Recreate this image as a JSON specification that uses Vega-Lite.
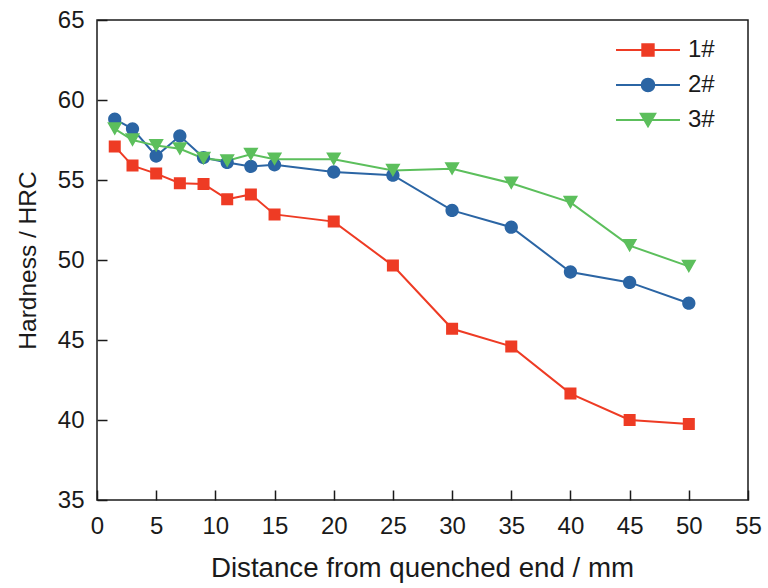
{
  "$schema": "https://vega.github.io/schema/vega-lite/v6.json",
  "autosize": {"type": "none"},
  "width": 651,
  "height": 480,
  "padding": {"left": 97, "top": 20, "right": 20, "bottom": 88},
  "background": "white",
  "config": {
    "font": "Liberation Sans",
    "view": {"stroke": "#1a1a1a", "strokeWidth": 1.5},
    "axis": {
      "grid": false,
      "domain": false,
      "ticks": true,
      "tickSize": -10,
      "tickColor": "#1a1a1a",
      "tickWidth": 1.5,
      "labelFont": "Liberation Sans",
      "labelFontSize": 24,
      "labelColor": "#1a1a1a",
      "titleFont": "Liberation Sans",
      "titleFontWeight": "normal",
      "titleColor": "#1a1a1a"
    }
  },
  "data": {
    "values": [
      {"d": 1.5, "hrc": 57.1, "s": "1#"}, {"d": 3, "hrc": 55.9, "s": "1#"}, {"d": 5, "hrc": 55.4, "s": "1#"},
      {"d": 7, "hrc": 54.8, "s": "1#"}, {"d": 9, "hrc": 54.75, "s": "1#"}, {"d": 11, "hrc": 53.8, "s": "1#"},
      {"d": 13, "hrc": 54.1, "s": "1#"}, {"d": 15, "hrc": 52.85, "s": "1#"}, {"d": 20, "hrc": 52.4, "s": "1#"},
      {"d": 25, "hrc": 49.65, "s": "1#"}, {"d": 30, "hrc": 45.7, "s": "1#"}, {"d": 35, "hrc": 44.6, "s": "1#"},
      {"d": 40, "hrc": 41.65, "s": "1#"}, {"d": 45, "hrc": 40.0, "s": "1#"}, {"d": 50, "hrc": 39.75, "s": "1#"},
      {"d": 1.5, "hrc": 58.8, "s": "2#"}, {"d": 3, "hrc": 58.2, "s": "2#"}, {"d": 5, "hrc": 56.5, "s": "2#"},
      {"d": 7, "hrc": 57.75, "s": "2#"}, {"d": 9, "hrc": 56.4, "s": "2#"}, {"d": 11, "hrc": 56.1, "s": "2#"},
      {"d": 13, "hrc": 55.85, "s": "2#"}, {"d": 15, "hrc": 55.95, "s": "2#"}, {"d": 20, "hrc": 55.5, "s": "2#"},
      {"d": 25, "hrc": 55.3, "s": "2#"}, {"d": 30, "hrc": 53.1, "s": "2#"}, {"d": 35, "hrc": 52.05, "s": "2#"},
      {"d": 40, "hrc": 49.25, "s": "2#"}, {"d": 45, "hrc": 48.6, "s": "2#"}, {"d": 50, "hrc": 47.3, "s": "2#"},
      {"d": 1.5, "hrc": 58.2, "s": "3#"}, {"d": 3, "hrc": 57.5, "s": "3#"}, {"d": 5, "hrc": 57.15, "s": "3#"},
      {"d": 7, "hrc": 56.95, "s": "3#"}, {"d": 9, "hrc": 56.35, "s": "3#"}, {"d": 11, "hrc": 56.2, "s": "3#"},
      {"d": 13, "hrc": 56.6, "s": "3#"}, {"d": 15, "hrc": 56.3, "s": "3#"}, {"d": 20, "hrc": 56.3, "s": "3#"},
      {"d": 25, "hrc": 55.6, "s": "3#"}, {"d": 30, "hrc": 55.7, "s": "3#"}, {"d": 35, "hrc": 54.8, "s": "3#"},
      {"d": 40, "hrc": 53.6, "s": "3#"}, {"d": 45, "hrc": 50.9, "s": "3#"}, {"d": 50, "hrc": 49.6, "s": "3#"}
    ]
  },
  "encoding": {
    "x": {
      "field": "d",
      "type": "quantitative",
      "scale": {"domain": [0, 55], "nice": false},
      "axis": {
        "values": [0, 5, 10, 15, 20, 25, 30, 35, 40, 45, 50, 55],
        "labelPadding": 24,
        "labelFlush": false,
        "title": "Distance from quenched end / mm",
        "titleFontSize": 27.7,
        "titleX": 325,
        "titleY": 76.5,
        "titleAlign": "center",
        "titleBaseline": "alphabetic"
      }
    },
    "y": {
      "field": "hrc",
      "type": "quantitative",
      "scale": {"domain": [35, 65], "nice": false, "zero": false},
      "axis": {
        "values": [35, 40, 45, 50, 55, 60, 65],
        "labelPadding": 23,
        "labelFlush": false,
        "title": "Hardness / HRC",
        "titleFontSize": 24.5,
        "titleAngle": -90,
        "titleX": -62,
        "titleY": 240,
        "titleAlign": "center",
        "titleBaseline": "alphabetic"
      }
    },
    "color": {
      "field": "s",
      "type": "nominal",
      "scale": {"domain": ["1#", "2#", "3#"], "range": ["#EE3B24", "#2B65A4", "#5CBF5C"]},
      "legend": {
        "orient": "none",
        "legendX": 539,
        "legendY": 18,
        "title": null,
        "padding": 0,
        "labelFont": "Liberation Sans",
        "labelFontSize": 24,
        "labelColor": "#1a1a1a",
        "labelOffset": 28,
        "rowPadding": 11,
        "symbolSize": 144,
        "symbolStrokeWidth": 2,
        "encode": {
          "symbols": {
            "update": {
              "stroke": {"signal": "scale('color', datum.value)"},
              "strokeWidth": {"value": 2},
              "opacity": {"value": 1},
              "fillOpacity": {"value": 1},
              "strokeOpacity": {"value": 1}
            }
          }
        }
      }
    },
    "shape": {
      "field": "s",
      "type": "nominal",
      "scale": {
        "domain": ["1#", "2#", "3#"],
        "range": [
          "M-5.33,0H5.33M-0.95,-0.95H0.95V0.95H-0.95Z",
          "M-5.33,0H5.33M1.05,0A1.05,1.05,0,1,1,-1.05,0A1.05,1.05,0,1,1,1.05,0Z",
          "M-5.33,0H5.33M-1.2,-1.05L1.2,-1.05L0,1.05Z"
        ]
      }
    }
  },
  "layer": [
    {
      "mark": {"type": "line", "strokeWidth": 2},
      "encoding": {"shape": {"value": "circle"}}
    },
    {
      "mark": {"type": "point", "filled": true, "opacity": 1, "size": 160, "strokeWidth": 0}
    }
  ]
}
